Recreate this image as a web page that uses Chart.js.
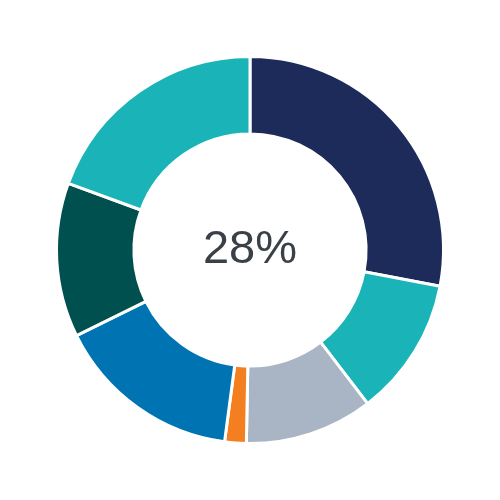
<!DOCTYPE html>
<html>
<head>
<meta charset="utf-8">
<script src="https://cdn.jsdelivr.net/npm/chart.js"></script>
<style>
  html, body { margin: 0; padding: 0; background: #fff; }
  #wrap { width: 500px; height: 500px; }
</style>
</head>
<body>
<div id="wrap"><canvas id="myChart"></canvas></div>
<script>
const labels = ['A', 'B', 'C', 'D', 'E', 'F', 'G'];
const values = [28, 11.6, 10.7, 1.8, 15.6, 12.9, 19.4];
const colors = ['#1c2b5a', '#1ab4b8', '#a9b4c4', '#f47f20', '#0073b3', '#00504f', '#1ab4b8'];
const centerText = '28%';

// Draw the big number in the middle of the ring
const centerLabel = {
  id: 'centerLabel',
  afterDraw(chart) {
    const ctx = chart.ctx;
    const meta = chart.getDatasetMeta(0).data[0];
    ctx.save();
    ctx.font = '47px "Liberation Sans", Arial, sans-serif';
    ctx.fillStyle = '#3a4047';
    ctx.textAlign = 'center';
    ctx.textBaseline = 'middle';
    ctx.fillText(centerText, meta.x, meta.y);
    ctx.restore();
  }
};

const ctx = document.getElementById('myChart').getContext('2d');
new Chart(ctx, {
  type: 'doughnut',
  data: {
    labels: labels,
    datasets: [{
      data: values,
      backgroundColor: colors,
      borderColor: '#ffffff',
      borderWidth: 3
    }]
  },
  options: {
    responsive: true,
    maintainAspectRatio: false,
    animation: false,
    cutout: '60%',
    layout: { padding: 55 },
    plugins: {
      legend: { display: false },
      title: { display: false },
      tooltip: { enabled: false }
    }
  },
  plugins: [centerLabel]
});
</script>
</body>
</html>
